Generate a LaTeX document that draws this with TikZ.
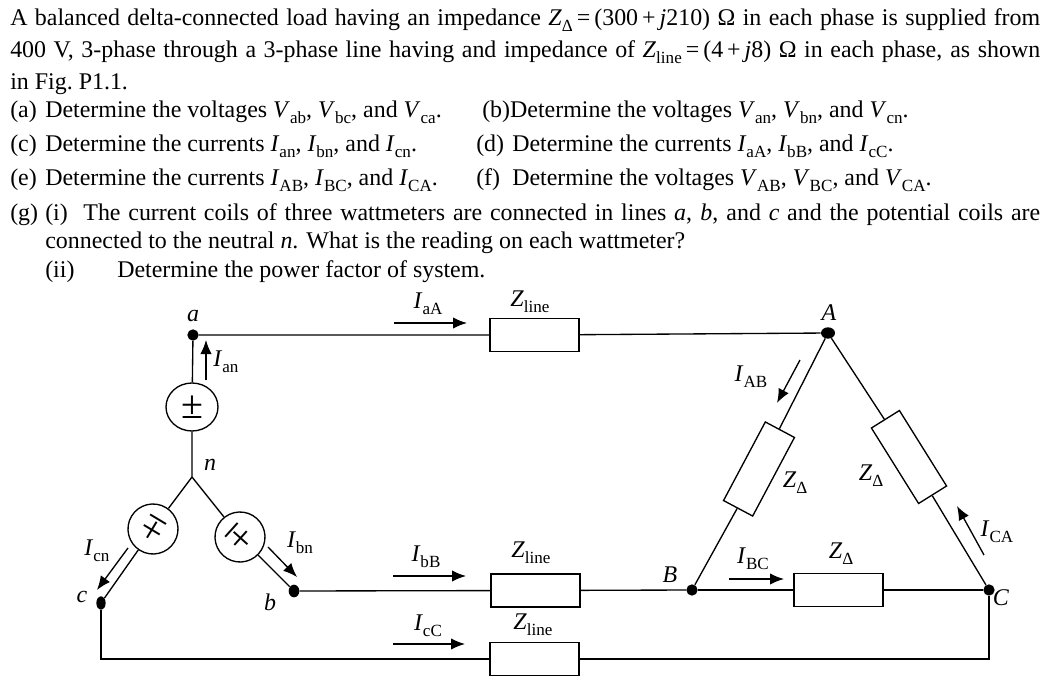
\documentclass[tikz,border=0pt]{standalone}
\usepackage{fontspec}
\setmainfont{Liberation Serif}
\usetikzlibrary{positioning}
\usetikzlibrary{shapes.geometric}
\usetikzlibrary{arrows.meta}
\newcommand{\sbs}[2]{\textit{#1}\raisebox{-4.5pt}{\fontsize{12.8}{13}\selectfont #2}}
\newcommand{\qtag}[1]{\makebox[26.25pt][l]{#1}}
\newcommand{\qtagb}[1]{\makebox[27pt][l]{#1}}
\begin{document}
\begin{tikzpicture}[x=0.75pt,y=-0.75pt]
	\tikzset{txt/.style = {anchor=base west,inner sep=0pt,font=\fontsize{17.95}{20}\selectfont}}
	\tikzset{lbl/.style = {inner sep=0pt,font=\fontsize{17.95}{20}\selectfont}}
	\tikzset{wire/.style = {line width=1pt}}
	\tikzset{flow/.style = {-{Latex[length=10.5pt,width=8.5pt]},line width=1pt}}
	\tikzset{dot/.style = {ellipse,fill=black,inner sep=0pt,minimum width=8.5pt,minimum height=8.5pt}}
	\tikzset{zbox/.style = {rectangle,draw,line width=1pt,fill=white,inner sep=0pt,minimum width=66.75pt,minimum height=24.75pt}}
	\tikzset{srcbox/.style = {ellipse,draw,line width=1pt,inner sep=0pt,minimum width=37.5pt,minimum height=37.5pt,font=\fontsize{30}{30}\selectfont}}
	\useasboundingbox (0,0) rectangle (1050,688);
	% problem text
	\node[txt] (lineone) at (10,26) {\makebox[772.5pt][s]{A balanced delta-connected load having an impedance \sbs{Z}{Δ}\,=\,(300\,+\,\textit{j}210) Ω in each phase is supplied from}};
	\node[txt] (linetwo) at (10,58) {\makebox[772.5pt][s]{400 V, 3-phase through a 3-phase line having and impedance of \sbs{Z}{line}\,=\,(4\,+\,\textit{j}8) Ω in each phase, as shown}};
	\node[txt] (linethree) at (10,90) {in Fig.\ P1.1.};
	\node[txt] (parta) at (10,118) {\qtag{(a)}Determine the voltages \sbs{V}{ab}, \sbs{V}{bc}, and \sbs{V}{ca}.};
	\node[txt] (partb) at (482,118) {(b)Determine the voltages \sbs{V}{an}, \sbs{V}{bn}, and \sbs{V}{cn}.};
	\node[txt] (partc) at (10,152) {\qtag{(c)}Determine the currents \sbs{I}{an}, \sbs{I}{bn}, and \sbs{I}{cn}.};
	\node[txt] (partd) at (476,152) {\qtagb{(d)}Determine the currents \sbs{I}{aA}, \sbs{I}{bB}, and \sbs{I}{cC}.};
	\node[txt] (parte) at (10,186) {\qtag{(e)}Determine the currents \sbs{I}{AB}, \sbs{I}{BC}, and \sbs{I}{CA}.};
	\node[txt] (partf) at (476,186) {\qtagb{(f)}Determine the voltages \sbs{V}{AB}, \sbs{V}{BC}, and \sbs{V}{CA}.};
	\node[txt] (partg) at (10,221) {\makebox[772.5pt][s]{\qtag{(g)}(i)\ \ The current coils of three wattmeters are connected in lines \textit{a}, \textit{b}, and \textit{c} and the potential coils are}};
	\node[txt] (partgb) at (45,248) {connected to the neutral \textit{n}. What is the reading on each wattmeter?};
	\node[txt] (partgc) at (45,277) {\makebox[54pt][l]{(ii)}Determine the power factor of system.};
	% terminals
	\node[dot] (a) at (193,335) {};
	\node[dot,minimum width=7pt,minimum height=10pt] (c) at (101,603) {};
	\node[dot,minimum width=8pt,minimum height=9.5pt] (b) at (294,591) {};
	\node[dot,minimum width=10.5pt,minimum height=8.5pt] (A) at (828,333) {};
	\node[dot] (B) at (692,590) {};
	\node[dot] (C) at (989,590) {};
	\coordinate (n) at (192,477);
	% sources
	\node[srcbox,minimum width=39pt,minimum height=36pt] (srcA) at (192,407) {±};
	\node[srcbox,rotate=149] (srcC) at (153,529) {±};
	\node[srcbox,rotate=-132] (srcB) at (240,537) {±};
	% impedances
	\node[zbox] (lineA) at (534.5,335) {};
	\node[zbox] (lineB) at (535.5,590.5) {};
	\node[zbox] (lineC) at (534.5,659) {};
	\node[zbox,rotate=62] (loadAB) at (759,469) {};
	\node[zbox,rotate=-58] (loadCA) at (909,457) {};
	\node[zbox] (loadBC) at (838.5,590) {};
	% wires
	\draw[wire] (a) -- (srcA) -- (n);
	\draw[wire] (n) -- (srcC) -- (c);
	\draw[wire] (n) -- (srcB) -- (b);
	\draw[wire] (a) -- (lineA) -- (A);
	\draw[wire] (b) -- (lineB) -- (B);
	\draw[wire] (c) |- (lineC);
	\draw[wire] (lineC) -| (C);
	\draw[wire] (A) -- (loadAB) -- (B);
	\draw[wire] (A) -- (loadCA) -- (C);
	\draw[wire] (B) -- (loadBC) -- (C);
	% current arrows
	\coordinate (anS) at (206,380);  \coordinate (anE) at (206,340);
	\coordinate (bnS) at (268,547);  \coordinate (bnE) at (297,577);
	\coordinate (cnS) at (128,548);  \coordinate (cnE) at (97,590);
	\coordinate (aAS) at (394,323);  \coordinate (aAE) at (467,323);
	\coordinate (bBS) at (393,576);  \coordinate (bBE) at (466,576);
	\coordinate (cCS) at (393,644);  \coordinate (cCE) at (465,644);
	\coordinate (abS) at (800,360);  \coordinate (abE) at (777,403);
	\coordinate (caS) at (984,555);  \coordinate (caE) at (957,506);
	\coordinate (bcS) at (729,579);  \coordinate (bcE) at (784,579);
	\foreach \p in {an,bn,cn,aA,bB,cC,ab,ca,bc}
		\draw[flow] (\p S) -- (\p E);
	% labels
	\node[lbl] (la) at (193,316) {\textit{a}};
	\node[lbl] (ln) at (210,465) {\textit{n}};
	\node[lbl] (lc) at (82,597) {\textit{c}};
	\node[lbl] (lb) at (270,602) {\textit{b}};
	\node[lbl] (lA) at (829,313) {\textit{A}};
	\node[lbl] (lB) at (670,575) {\textit{B}};
	\node[lbl] (lC) at (1001,598) {\textit{C}};
	\node[lbl] (lan) at (226,362) {\sbs{I}{an}};
	\node[lbl] (lbn) at (300,543) {\sbs{I}{bn}};
	\node[lbl] (lcn) at (97,551) {\sbs{I}{cn}};
	\node[lbl] (laA) at (428,304) {\sbs{I}{aA}};
	\node[lbl] (lbB) at (426,557) {\sbs{I}{bB}};
	\node[lbl] (lcC) at (428,626) {\sbs{I}{cC}};
	\node[lbl] (lAB) at (751,377) {\sbs{I}{AB}};
	\node[lbl] (lBC) at (753,559) {\sbs{I}{BC}};
	\node[lbl] (lCA) at (997,532) {\sbs{I}{CA}};
	\node[lbl] (zla) at (530,302) {\sbs{Z}{line}};
	\node[lbl] (zlb) at (531,553) {\sbs{Z}{line}};
	\node[lbl] (zlc) at (533,625) {\sbs{Z}{line}};
	\node[lbl] (zab) at (795,483) {\sbs{Z}{Δ}};
	\node[lbl] (zca) at (871,476) {\sbs{Z}{Δ}};
	\node[lbl] (zbc) at (841,554) {\sbs{Z}{Δ}};
\end{tikzpicture}
\end{document}
